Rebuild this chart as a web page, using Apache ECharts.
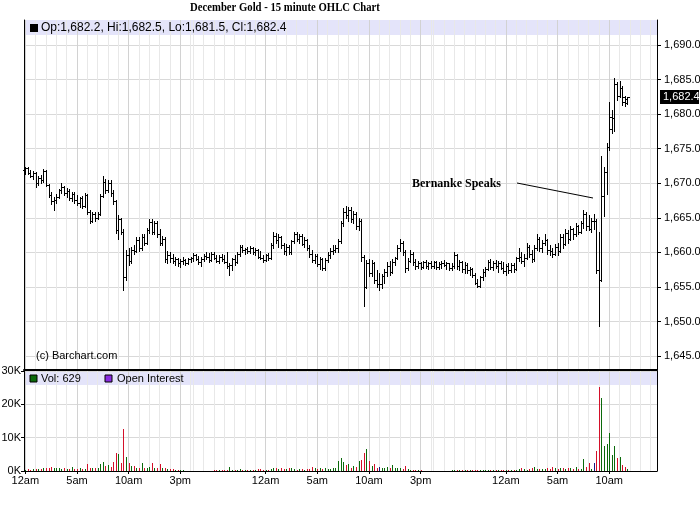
<!DOCTYPE html>
<html><head><meta charset="utf-8">
<script src="https://cdn.jsdelivr.net/npm/echarts@6/dist/echarts.min.js"></script>
<style>html,body{margin:0;padding:0;background:#fff}#c{width:700px;height:512px}</style>
</head><body><div id="c"></div><script>
// ---------- data ----------
const chartTitle = 'December Gold - 15 minute OHLC Chart';
const annotationText = 'Bernanke Speaks';
const copyrightText = '(c) Barchart.com';
// trading sessions (day, first bar, last slot on axis), 15 minute bars
const sessions = [
  ['08/29', '00:00', '16:00'],
  ['08/29', '17:00', '23:45'],
  ['08/30', '00:00', '16:00'],
  ['08/30', '17:00', '23:45'],
  ['08/31', '00:00', '14:30']
];
const timeLabels = {'00:00': '12am', '05:00': '5am', '10:00': '10am', '15:00': '3pm'};
const priceTicks = [1645, 1650, 1655, 1660, 1665, 1670, 1675, 1680, 1685, 1690];
const volumeTicks = [0, 10000, 20000, 30000];
// [open, high, low, close]
const ohlc = [
[1671.9,1672.4,1671.4,1672.2],[1672.2,1672.4,1671.3,1671.5],[1671.5,1671.9,1670.9,1671.1],[1671.1,1671.8,1670.6,1671.5],[1671.5,1671.6,1669.5,1670.0],[1670.0,1671.0,1669.8,1670.8],[1670.8,1671.2,1670.1,1670.4],[1670.4,1672.1,1670.2,1671.8],[1671.8,1671.9,1669.6,1669.8],[1669.8,1669.9,1668.0,1668.3],
[1668.3,1668.8,1667.0,1667.4],[1667.4,1668.0,1666.1,1667.6],[1667.6,1668.4,1667.1,1668.0],[1668.0,1669.2,1667.8,1669.0],[1669.0,1670.1,1668.6,1669.4],[1669.4,1669.6,1668.3,1668.6],[1668.6,1669.3,1668.0,1668.9],[1668.9,1669.1,1667.6,1667.9],[1667.9,1668.8,1667.5,1668.5],[1668.5,1668.7,1667.2,1667.6],
[1667.6,1668.3,1666.9,1667.2],[1667.2,1668.0,1666.5,1667.8],[1667.8,1668.1,1666.4,1666.7],[1666.7,1668.6,1666.5,1668.3],[1668.3,1668.5,1665.5,1665.8],[1665.8,1666.2,1664.2,1664.6],[1664.6,1665.8,1664.4,1665.5],[1665.5,1665.9,1664.6,1665.0],[1665.0,1665.8,1664.8,1665.6],[1665.6,1668.5,1665.4,1668.2],
[1668.2,1671.0,1668.0,1670.2],[1670.2,1670.6,1668.6,1669.0],[1669.0,1670.5,1668.8,1670.1],[1670.1,1670.4,1668.2,1668.6],[1668.6,1669.0,1667.0,1667.4],[1667.4,1667.6,1662.8,1663.2],[1663.2,1665.4,1662.0,1664.8],[1664.8,1665.0,1662.6,1663.0],[1663.0,1663.4,1654.5,1656.4],[1656.4,1660.4,1656.0,1659.6],
[1659.6,1660.6,1658.2,1658.8],[1658.8,1660.8,1658.4,1660.4],[1660.4,1661.0,1659.8,1660.2],[1660.2,1662.2,1660.0,1661.8],[1661.8,1662.3,1660.2,1660.6],[1660.6,1662.6,1660.4,1662.2],[1662.2,1662.7,1661.0,1661.4],[1661.4,1663.6,1661.2,1663.2],[1663.2,1664.8,1662.8,1664.4],[1664.4,1664.9,1662.6,1663.0],
[1663.0,1664.6,1662.6,1664.2],[1664.2,1664.5,1662.2,1662.6],[1662.6,1663.4,1661.0,1661.4],[1661.4,1662.4,1661.0,1662.0],[1662.0,1662.2,1658.6,1659.0],[1659.0,1660.2,1658.4,1659.6],[1659.6,1660.0,1658.6,1659.2],[1659.2,1659.8,1658.4,1658.8],[1658.8,1659.4,1658.2,1659.0],[1659.0,1659.2,1658.0,1658.4],
[1658.4,1659.0,1657.9,1658.7],[1658.7,1659.3,1658.3,1658.9],[1658.9,1659.1,1658.2,1658.5],[1658.5,1659.2,1658.3,1659.0],[1659.0,1659.4,1658.6,1659.2],[1659.2,1659.9,1658.8,1659.6],[1659.6,1659.8,1658.9,1659.1],[1659.1,1659.5,1658.3,1658.6],[1658.6,1659.3,1658.1,1659.0],[1659.0,1659.8,1658.7,1659.5],
[1659.5,1660.1,1659.0,1659.4],[1659.4,1659.9,1658.6,1658.9],[1658.9,1660.1,1658.7,1659.8],[1659.8,1660.0,1659.0,1659.2],[1659.2,1659.6,1658.6,1658.8],[1658.8,1659.6,1658.5,1659.4],[1659.4,1659.8,1658.8,1659.0],[1659.0,1659.6,1658.4,1658.6],[1658.6,1660.1,1657.8,1658.0],[1658.0,1658.4,1656.7,1658.2],
[1658.2,1659.2,1657.4,1659.0],[1659.0,1659.6,1658.2,1658.6],[1658.6,1660.0,1658.4,1659.7],[1659.7,1661.0,1659.5,1660.8],[1660.8,1661.1,1660.0,1660.4],[1660.4,1660.7,1659.8,1660.5],[1660.5,1660.8,1659.9,1660.2],[1660.2,1660.9,1659.9,1660.6],[1660.6,1660.8,1659.8,1660.0],[1660.0,1660.6,1659.6,1660.3],
[1660.3,1660.5,1659.2,1659.4],[1659.4,1660.2,1659.0,1659.2],[1659.2,1659.6,1658.6,1658.9],[1658.9,1659.8,1658.7,1659.6],[1659.6,1659.9,1658.9,1659.2],[1659.2,1661.4,1659.0,1661.0],[1661.0,1663.0,1660.6,1662.4],[1662.4,1662.8,1661.4,1661.8],[1661.8,1662.6,1660.8,1662.2],[1662.2,1662.4,1660.6,1661.0],
[1661.0,1661.3,1659.8,1660.2],[1660.2,1661.2,1659.6,1660.8],[1660.8,1661.0,1659.7,1660.0],[1660.0,1661.8,1659.8,1661.6],[1661.6,1663.0,1661.4,1662.6],[1662.6,1662.9,1661.6,1662.0],[1662.0,1662.7,1661.4,1662.4],[1662.4,1662.6,1661.0,1661.2],[1661.2,1662.2,1660.8,1661.8],[1661.8,1662.0,1660.4,1660.6],
[1660.6,1661.0,1659.4,1659.8],[1659.8,1660.4,1658.6,1658.9],[1658.9,1659.8,1658.4,1659.5],[1659.5,1659.7,1658.0,1658.3],[1658.3,1659.3,1657.6,1659.0],[1659.0,1659.2,1657.4,1657.8],[1657.8,1659.2,1657.4,1658.9],[1658.9,1660.0,1658.6,1659.6],[1659.6,1660.6,1659.2,1660.2],[1660.2,1661.0,1659.8,1660.4],
[1660.4,1661.0,1660.0,1660.6],[1660.6,1662.0,1660.0,1661.6],[1661.6,1664.6,1661.4,1664.2],[1664.2,1666.4,1663.8,1665.8],[1665.8,1666.7,1665.0,1665.4],[1665.4,1666.6,1664.6,1666.2],[1666.2,1666.5,1664.4,1664.8],[1664.8,1666.0,1664.2,1665.6],[1665.6,1665.9,1663.4,1663.8],[1663.8,1665.0,1663.2,1664.6],
[1664.6,1664.8,1658.8,1659.4],[1659.4,1659.6,1652.2,1655.0],[1655.0,1658.9,1654.8,1658.4],[1658.4,1659.0,1656.6,1657.0],[1657.0,1658.9,1656.6,1658.4],[1658.4,1658.6,1655.6,1656.0],[1656.0,1657.4,1655.0,1655.4],[1655.4,1657.0,1654.6,1655.4],[1655.4,1656.9,1654.8,1656.6],[1656.6,1657.6,1655.6,1657.2],
[1657.2,1658.6,1656.6,1658.0],[1658.0,1658.7,1656.8,1657.2],[1657.2,1659.0,1657.0,1658.6],[1658.6,1659.4,1658.2,1659.2],[1659.2,1661.0,1659.0,1660.6],[1660.6,1662.0,1660.2,1661.4],[1661.4,1661.6,1659.6,1660.0],[1660.0,1660.4,1657.2,1657.8],[1657.8,1659.2,1657.4,1658.8],[1658.8,1660.3,1658.6,1659.8],
[1659.8,1660.0,1658.2,1658.6],[1658.6,1659.0,1657.6,1658.0],[1658.0,1658.8,1657.7,1658.4],[1658.4,1658.6,1657.6,1657.9],[1657.9,1658.8,1657.7,1658.6],[1658.6,1658.9,1657.8,1658.0],[1658.0,1658.6,1657.6,1658.4],[1658.4,1658.7,1657.7,1658.0],[1658.0,1658.8,1657.8,1658.6],[1658.6,1658.8,1657.6,1657.9],
[1657.9,1658.6,1657.6,1658.3],[1658.3,1658.7,1657.8,1658.5],[1658.5,1658.9,1658.0,1658.2],[1658.2,1658.6,1657.6,1658.4],[1658.4,1658.5,1657.5,1657.8],[1657.8,1658.4,1657.5,1658.0],[1658.0,1660.1,1657.8,1659.6],[1659.6,1659.8,1657.6,1658.0],[1658.0,1658.9,1657.4,1658.6],[1658.6,1658.8,1657.2,1657.6],
[1657.6,1658.6,1657.0,1658.2],[1658.2,1658.4,1657.0,1657.4],[1657.4,1657.9,1656.7,1657.6],[1657.6,1657.8,1656.4,1656.8],[1656.8,1657.0,1655.4,1655.6],[1655.6,1656.2,1655.0,1655.2],[1655.2,1656.6,1655.0,1656.4],[1656.4,1657.6,1656.0,1657.2],[1657.2,1657.9,1656.6,1657.6],[1657.6,1658.9,1657.4,1658.6],
[1658.6,1659.0,1657.6,1657.9],[1657.9,1658.8,1657.4,1658.5],[1658.5,1658.9,1657.8,1658.1],[1658.1,1658.7,1657.2,1658.4],[1658.4,1658.8,1657.6,1657.8],[1657.8,1658.6,1657.0,1657.3],[1657.3,1658.3,1656.8,1658.0],[1658.0,1658.4,1657.0,1657.4],[1657.4,1658.5,1657.2,1658.2],[1658.2,1658.4,1657.2,1657.6],
[1657.6,1659.4,1657.4,1659.2],[1659.2,1660.6,1658.8,1659.4],[1659.4,1660.0,1658.4,1658.8],[1658.8,1659.8,1658.0,1659.2],[1659.2,1661.3,1659.0,1660.8],[1660.8,1661.0,1659.4,1659.8],[1659.8,1660.4,1658.6,1659.0],[1659.0,1661.0,1658.8,1660.6],[1660.6,1662.6,1660.4,1662.0],[1662.0,1662.3,1660.2,1660.6],
[1660.6,1661.8,1660.0,1661.4],[1661.4,1662.7,1661.0,1661.8],[1661.8,1662.0,1659.8,1660.4],[1660.4,1661.0,1659.6,1660.2],[1660.2,1660.6,1659.4,1659.8],[1659.8,1661.2,1659.6,1660.8],[1660.8,1661.4,1659.6,1660.2],[1660.2,1662.6,1660.0,1662.2],[1662.2,1662.6,1660.6,1661.2],[1661.2,1663.4,1661.0,1662.8],
[1662.8,1663.2,1661.4,1662.0],[1662.0,1663.8,1661.8,1663.4],[1663.4,1663.6,1662.0,1662.6],[1662.6,1664.2,1662.4,1663.8],[1663.8,1664.0,1662.6,1663.0],[1663.0,1664.6,1662.8,1664.2],[1664.2,1666.1,1663.6,1665.6],[1665.6,1665.8,1663.2,1663.8],[1663.8,1665.4,1663.2,1663.4],[1663.4,1665.0,1663.0,1664.6],
[1664.6,1665.6,1663.4,1664.6],[1664.6,1664.8,1657.0,1657.4],[1657.4,1663.0,1649.3,1656.0],[1656.0,1674.0,1655.8,1668.2],[1668.2,1672.4,1665.2,1671.6],[1671.6,1675.8,1668.5,1675.2],[1675.2,1681.8,1674.8,1679.6],[1677.8,1680.6,1677.2,1679.4],[1679.4,1685.2,1677.5,1684.4],[1684.4,1684.6,1682.0,1682.6],
[1682.6,1684.8,1682.4,1683.8],[1683.8,1684.0,1681.3,1681.8],[1682.4,1682.6,1681.1,1681.6],[1682.2,1682.5,1681.5,1682.4]
];
const volume = [
400,600,300,500,700,500,600,900,1000,800,
1100,900,1000,800,600,1000,700,500,1300,600,
500,800,700,600,2200,900,800,1000,900,2100,
2800,1600,1900,1100,2800,5500,5200,2400,12700,4300,
2500,1600,1400,1000,900,2500,800,900,1200,2500,
1000,800,2000,800,900,600,700,500,400,300,
400,300,0,0,0,0,0,0,0,0,
0,0,0,300,200,300,300,200,400,1300,
300,400,300,500,400,300,400,300,300,400,
500,500,400,300,300,500,1000,800,500,800,
500,600,1000,800,500,400,600,500,400,500,
600,1300,800,500,1000,600,800,500,700,800,
900,3100,3800,2800,1800,2000,800,1500,1200,3100,
3300,5300,6600,3000,1600,2000,1000,1200,1000,1000,
1200,1000,1800,900,900,1000,500,1500,500,300,
300,300,400,400,0,0,0,0,0,0,
0,0,0,0,0,200,300,200,300,200,
400,400,200,400,300,300,200,300,300,200,
300,200,300,300,200,300,300,400,300,400,
300,600,1000,700,400,600,800,1100,500,600,
700,500,1000,600,1300,800,600,1000,1000,700,
1000,1000,700,1300,600,700,3600,1300,2400,500,
2400,6100,25300,21800,7500,8100,11500,4800,7500,4000,
4200,1800,1200,629
];

// ---------- build ----------
const FONT = '"Liberation Sans", Arial, sans-serif';
const UP = '#0b6a0b', DOWN = '#d4102a', FLAT = '#1a1a80';
const categories = [];
sessions.forEach(([day, start, end]) => {
  let [h, m] = start.split(':').map(Number);
  const [eh, em] = end.split(':').map(Number);
  while (h * 60 + m <= eh * 60 + em) {
    categories.push(day + ' ' + String(h).padStart(2, '0') + ':' + String(m).padStart(2, '0'));
    m += 15; if (m >= 60) { m -= 60; h++; }
  }
});
const hhmm = v => v.slice(6);
const isHour = (i, v) => v.endsWith(':00');
const isLabel = (i, v) => hhmm(v) in timeLabels;
const fmt1 = v => Number(v).toLocaleString('en-US', {minimumFractionDigits: 1, maximumFractionDigits: 1});

const ohlcData = ohlc.map((d, i) => [i, d[0], d[1], d[2], d[3]]);
const volData = volume.map((v, i) => [i, v, Math.sign(ohlc[i][3] - ohlc[i][0])]);

function renderOHLC(params, api) {
  const i = api.value(0);
  const pO = api.coord([i, api.value(1)]);
  const pH = api.coord([i, api.value(2)]);
  const pL = api.coord([i, api.value(3)]);
  const pC = api.coord([i, api.value(4)]);
  const x = Math.round(pH[0]);
  const yh = Math.round(pH[1]), yl = Math.round(pL[1]);
  const style = {fill: '#000'};
  return {type: 'group', children: [
    {type: 'rect', shape: {x: x, y: yh, width: 1, height: Math.max(1, yl - yh + 1)}, style},
    {type: 'rect', shape: {x: x - 2, y: Math.round(pO[1]), width: 2, height: 1}, style},
    {type: 'rect', shape: {x: x + 1, y: Math.round(pC[1]), width: 2, height: 1}, style}
  ]};
}
function renderVol(params, api) {
  const v = api.value(1);
  if (!v) return null;
  const i = api.value(0);
  const top = api.coord([i, v]), base = api.coord([i, 0]);
  const d = api.value(2);
  const yt = Math.round(top[1]), yb = Math.round(base[1]);
  return {type: 'rect', shape: {x: Math.round(top[0]), y: yt, width: 1, height: Math.max(1, yb - yt)},
    style: {fill: d > 0 ? UP : (d < 0 ? DOWN : FLAT)}};
}

const hourLine = {show: true, interval: isHour, alignWithLabel: true, lineStyle: {color: '#e8e8e8', width: 1}};
const labelLine = {show: true, interval: isLabel, alignWithLabel: true, lineStyle: {color: '#d2d2d2', width: 1}};
const xBase = {type: 'category', data: categories, boundaryGap: true,
  axisLabel: {show: false}, axisTick: {show: false}, axisLine: {show: false}};

const chart = echarts.init(document.getElementById('c'));
chart.setOption({
  animation: false,
  backgroundColor: '#fff',
  grid: [
    {left: 24, top: 20, width: 633, height: 350, outerBoundsMode: 'none', containLabel: false},
    {left: 24, top: 371, width: 633, height: 100, outerBoundsMode: 'none', containLabel: false}
  ],
  xAxis: [
    Object.assign({}, xBase, {gridIndex: 0, position: 'bottom',
      axisLine: {show: true, onZero: false, lineStyle: {color: '#000', width: 2}}, splitLine: hourLine}),
    Object.assign({}, xBase, {gridIndex: 0, position: 'top', splitLine: labelLine}),
    Object.assign({}, xBase, {gridIndex: 1, position: 'bottom',
      axisLine: {show: true, onZero: false, lineStyle: {color: '#000', width: 1}},
      axisTick: {show: true, interval: isLabel, alignWithLabel: true, length: 3, lineStyle: {color: '#000'}},
      axisLabel: {show: true, interval: isLabel, formatter: v => timeLabels[hhmm(v)], color: '#000',
        fontSize: 11, fontFamily: FONT, margin: 4},
      splitLine: hourLine}),
    Object.assign({}, xBase, {gridIndex: 1, position: 'top', splitLine: labelLine})
  ],
  yAxis: [
    {type: 'value', gridIndex: 0, position: 'right', min: 1643, max: 1693.6,
      axisLine: {show: true, lineStyle: {color: '#000'}},
      axisTick: {show: true, length: 4, customValues: priceTicks, lineStyle: {color: '#000'}},
      axisLabel: {show: true, customValues: priceTicks, formatter: fmt1, color: '#000', fontSize: 11,
        fontFamily: FONT, margin: 7},
      splitLine: {show: true, lineStyle: {color: '#d9d9d9'}}},
    {type: 'value', gridIndex: 0, position: 'left', min: 1643, max: 1693.6,
      axisLine: {show: true, lineStyle: {color: '#000'}}, axisTick: {show: false},
      axisLabel: {show: false}, splitLine: {show: false}},
    {type: 'value', gridIndex: 1, position: 'left', min: 0, max: 30000, interval: 10000,
      axisLine: {show: true, lineStyle: {color: '#000'}},
      axisTick: {show: true, length: 3, lineStyle: {color: '#000'}},
      axisLabel: {show: true, showMinLabel: true, showMaxLabel: true, formatter: v => (v / 1000) + 'K',
        color: '#000', fontSize: 11, fontFamily: FONT, margin: 3},
      splitLine: {show: true, lineStyle: {color: '#d9d9d9'}}},
    {type: 'value', gridIndex: 1, position: 'right', min: 0, max: 30000,
      axisLine: {show: true, lineStyle: {color: '#000'}}, axisTick: {show: false},
      axisLabel: {show: false}, splitLine: {show: false}}
  ],
  series: [
    {type: 'custom', name: 'Price', xAxisIndex: 0, yAxisIndex: 0, data: ohlcData,
      encode: {x: 0, y: [1, 2, 3, 4]}, renderItem: renderOHLC, z: 5},
    {type: 'custom', name: 'Vol', xAxisIndex: 2, yAxisIndex: 2, data: volData,
      encode: {x: 0, y: 1}, renderItem: renderVol, z: 5}
  ]
});

const last = ohlc[ohlc.length - 1];
const lastY = chart.convertToPixel({yAxisIndex: 0}, last[3]);
const header = 'Op:' + fmt1(last[0]) + ', Hi:' + fmt1(last[1]) + ', Lo:' + fmt1(last[2]) + ', Cl:' + fmt1(last[3]);
const txt = (x, y, text, extra, more) => Object.assign({type: 'text', x, y, silent: true, z: 50,
  style: Object.assign({text, fill: '#000', font: '11px ' + FONT, verticalAlign: 'middle'}, extra || {})}, more || {});
chart.setOption({
  graphic: [
    {type: 'rect', z: -10, silent: true, shape: {x: 25, y: 20, width: 632, height: 15}, style: {fill: '#e4e4fa'}},
    {type: 'rect', z: -10, silent: true, shape: {x: 25, y: 372, width: 632, height: 13}, style: {fill: '#e4e4fa'}},
    txt(285, 8, chartTitle, {font: 'bold 12px "Liberation Serif", serif', align: 'center'}, {scaleX: 0.89}),
    {type: 'rect', z: 50, silent: true, shape: {x: 30, y: 24, width: 8, height: 8}, style: {fill: '#000'}},
    txt(41, 28, header, {font: '12px ' + FONT}),
    {type: 'rect', z: 50, silent: true, shape: {x: 30, y: 375, width: 7, height: 7}, style: {fill: UP, stroke: '#000', lineWidth: 1}},
    txt(41, 379, 'Vol: ' + volume[volume.length - 1]),
    {type: 'rect', z: 50, silent: true, shape: {x: 105, y: 375, width: 7, height: 7}, style: {fill: '#8a2be2', stroke: '#000', lineWidth: 1}},
    txt(117, 379, 'Open Interest'),
    txt(36, 356, copyrightText),
    txt(412, 184, annotationText, {font: 'bold 12px "Liberation Serif", serif'}),
    {type: 'line', z: 50, silent: true, shape: {x1: 517, y1: 183, x2: 593, y2: 198}, style: {stroke: '#000', lineWidth: 1}},
    {type: 'rect', z: 50, silent: true, shape: {x: 660, y: Math.round(lastY) - 7, width: 39, height: 14}, style: {fill: '#000'}},
    txt(663, Math.round(lastY), fmt1(last[3]), {fill: '#fff'})
  ]
});
</script></body></html>
